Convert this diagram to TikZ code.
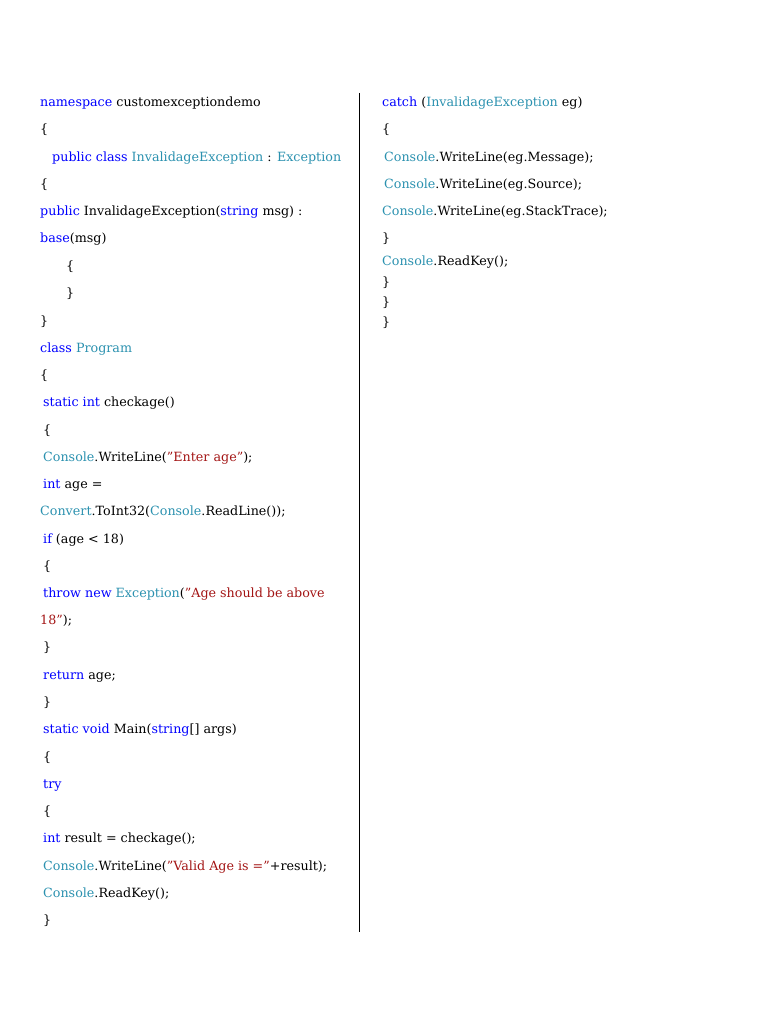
\documentclass[tikz,border=0pt]{standalone}
\usepackage{fontspec}
\setmainfont[Ligatures=NoCommon]{DejaVu Serif}
\definecolor{kw}{RGB}{0,0,255}
\definecolor{ty}{RGB}{43,145,175}
\definecolor{st}{RGB}{163,21,21}
\newcommand{\K}[1]{\textcolor{kw}{#1}}
\newcommand{\T}[1]{\textcolor{ty}{#1}}
\newcommand{\Sx}[1]{\textcolor{st}{#1}}
\newcommand{\q}{\symbol{34}}
\begin{document}
\begin{tikzpicture}[x=1pt,y=-1pt,every node/.style={anchor=base west,inner sep=0pt,font=\fontsize{12.7}{14}\selectfont}]
\useasboundingbox (0,0) rectangle (768,1024);
\draw[line width=1pt] (359,93) -- (359,932);
\node (l1) at (40,107) {\K{namespace} customexceptiondemo};
\node (l2) at (40,134) {\{};
\node (l3) at (52,162) {\K{public} \K{class} \T{InvalidageException} : \T{Exception}};
\node (l4) at (40,189) {\{};
\node (l5) at (40,216) {\K{public} InvalidageException(\K{string} msg) :};
\node (l6) at (40,243) {\K{base}(msg)};
\node (l7) at (66,270) {\{};
\node (l8) at (66,297) {\}};
\node (l9) at (40,325) {\}};
\node (l10) at (40,352) {\K{class} \T{Program}};
\node (l11) at (40,379) {\{};
\node (l12) at (43,406) {\K{static} \K{int} checkage()};
\node (l13) at (43,434) {\{};
\node (l14) at (43,461) {\T{Console}.WriteLine(\Sx{\q Enter age\q});};
\node (l15) at (43,488) {\K{int} age =};
\node (l16) at (40,515) {\T{Convert}.ToInt32(\T{Console}.ReadLine());};
\node (l17) at (43,543) {\K{if} (age < 18)};
\node (l18) at (43,570) {\{};
\node (l19) at (43,597) {\K{throw} \K{new} \T{Exception}(\Sx{\q Age should be above}};
\node (l20) at (40,624) {\Sx{18\q});};
\node (l21) at (43,651) {\}};
\node (l22) at (43,679) {\K{return} age;};
\node (l23) at (43,706) {\}};
\node (l24) at (43,733) {\K{static} \K{void} Main(\K{string}[] args)};
\node (l25) at (43,761) {\{};
\node (l26) at (43,788) {\K{try}};
\node (l27) at (43,815) {\{};
\node (l28) at (43,842) {\K{int} result = checkage();};
\node (l29) at (43,870) {\T{Console}.WriteLine(\Sx{\q Valid Age is =\q}+result);};
\node (l30) at (43,897) {\T{Console}.ReadKey();};
\node (l31) at (43,924) {\}};
\node (r1) at (382,107) {\K{catch} (\T{InvalidageException} eg)};
\node (r2) at (382,134) {\{};
\node (r3) at (384,162) {\T{Console}.WriteLine(eg.Message);};
\node (r4) at (384,189) {\T{Console}.WriteLine(eg.Source);};
\node (r5) at (382,216) {\T{Console}.WriteLine(eg.StackTrace);};
\node (r6) at (382,243) {\}};
\node (r7) at (382,265) {\T{Console}.ReadKey();};
\node (r8) at (382,286) {\}};
\node (r9) at (382,306) {\}};
\node (r10) at (382,326) {\}};
\end{tikzpicture}
\end{document}
